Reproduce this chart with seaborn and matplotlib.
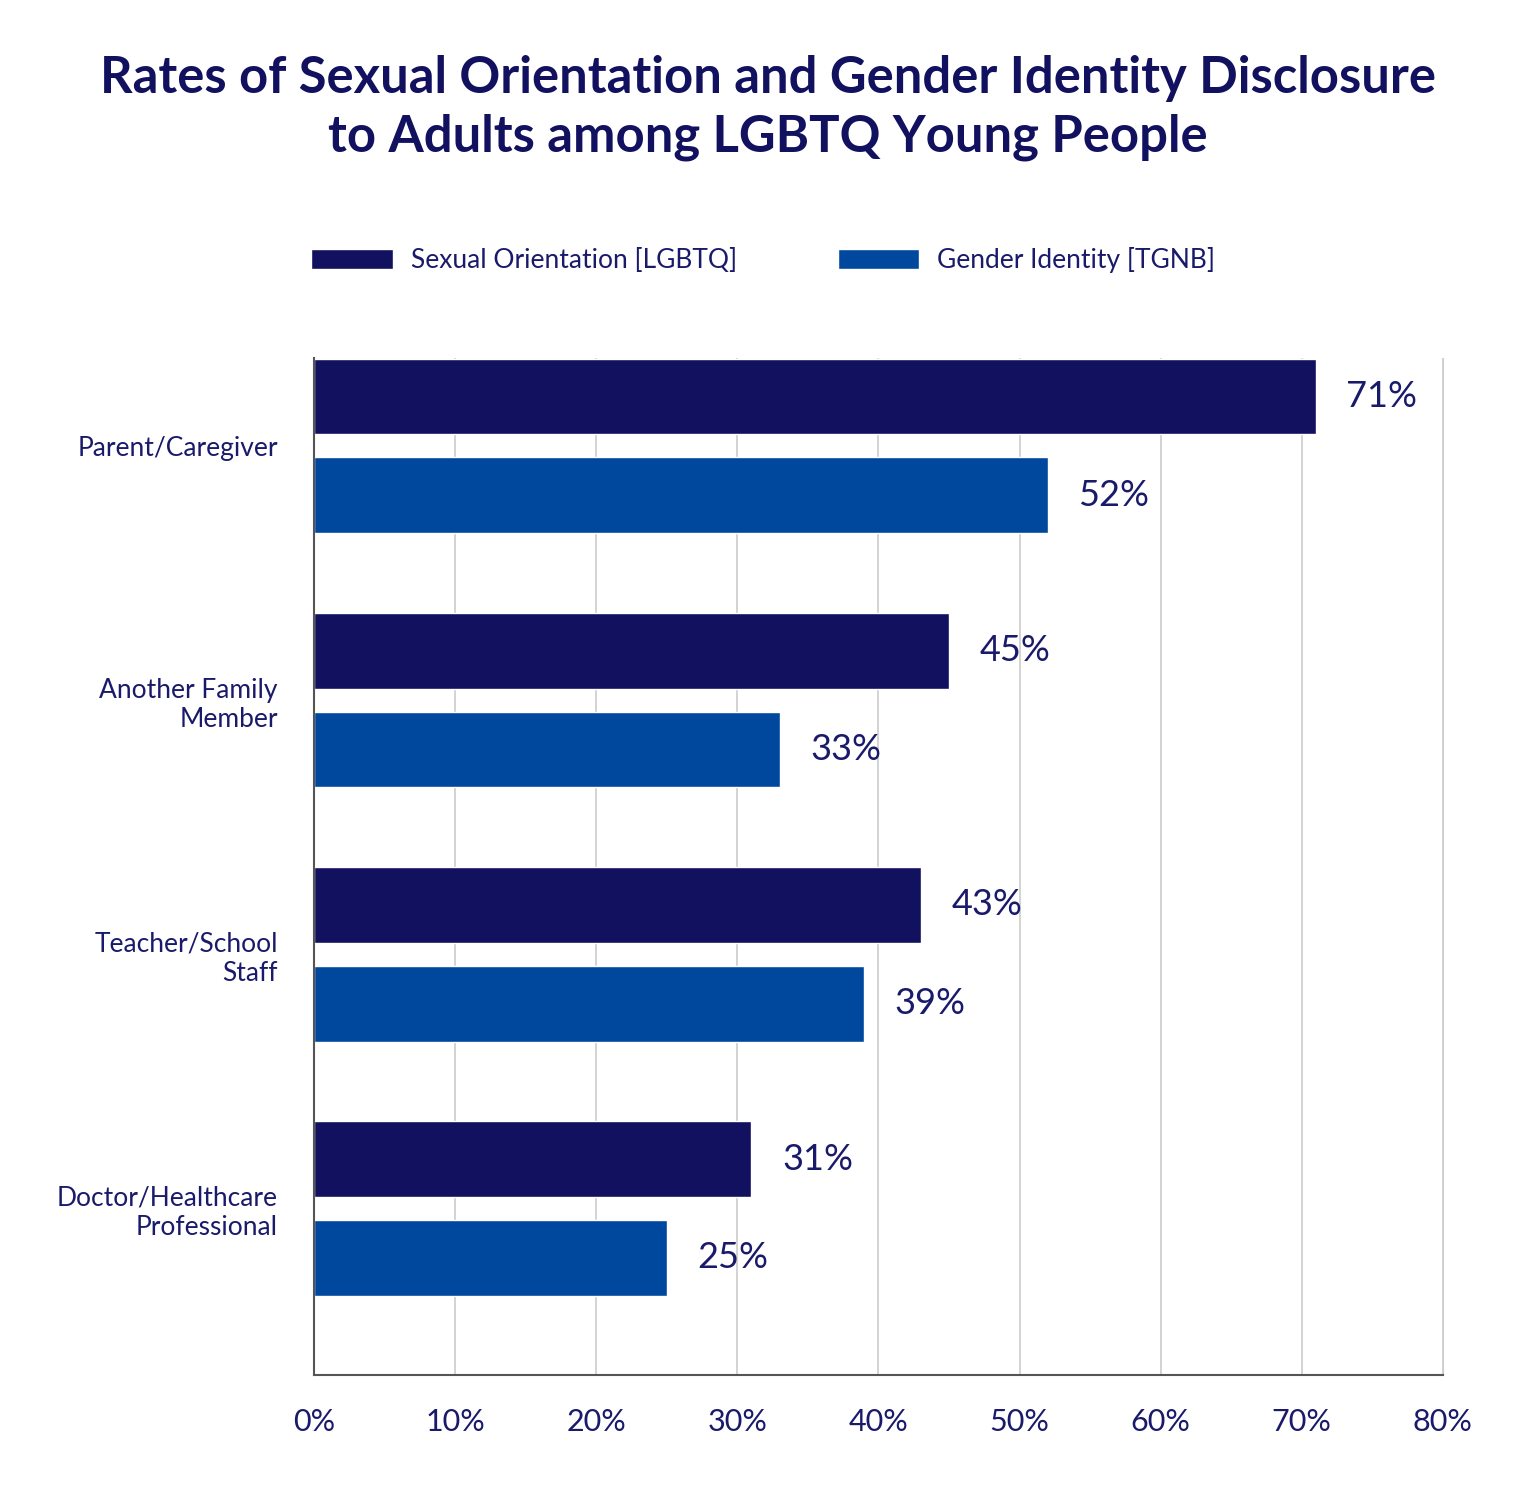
import pandas as pd
import matplotlib
matplotlib.use("Agg")
import matplotlib.pyplot as plt
import seaborn as sns
from matplotlib.patches import Patch

# Data
categories = ["Parent/Caregiver", "Another Family\nMember", "Teacher/School\nStaff",
              "Doctor/Healthcare\nProfessional"]
series_names = ["Sexual Orientation [LGBTQ]", "Gender Identity [TGNB]"]
sexual_orientation = [71, 45, 43, 31]
gender_identity = [52, 33, 39, 25]
x_ticks = [0, 10, 20, 30, 40, 50, 60, 70, 80]

navy = "#12115F"
blue = "#00479E"
text_col = "#1A1A6B"

df = pd.DataFrame({
    "category": categories * 2,
    "series": [series_names[0]] * 4 + [series_names[1]] * 4,
    "value": sexual_orientation + gender_identity,
})

sns.set_style("white")
plt.rcParams["font.family"] = ["Lato", "DejaVu Sans"]

fig = plt.figure(figsize=(15.36, 14.94), dpi=100)
ax = fig.add_axes([0.2044, 0.0797, 0.735, 0.6807])

sns.barplot(data=df, y="category", x="value", hue="series", orient="h",
            palette=[navy, blue], width=0.778, gap=0.232, ax=ax,
            legend=False, errorbar=None, saturation=1)

# value labels
for cont in ax.containers:
    ax.bar_label(cont, labels=[f"{v:.0f}%" for v in cont.datavalues],
                 padding=22, fontsize=26, color=text_col, fontweight="normal")

ax.set_xlim(0, 80)
ax.set_ylim(3.655, -0.346)
ax.set_xticks(x_ticks)
ax.set_xticklabels([f"{t}%" for t in x_ticks], fontsize=22, color=text_col)
ax.tick_params(axis="x", length=0, pad=24)
ax.tick_params(axis="y", length=0, pad=26, labelsize=19, labelcolor=text_col)
for lbl in ax.get_yticklabels():
    lbl.set_horizontalalignment("right")
ax.set_xlabel("")
ax.set_ylabel("")
ax.grid(axis="x", color="#CCCCCC", linewidth=1.2)
ax.set_axisbelow(True)
ax.spines["top"].set_visible(False)
ax.spines["right"].set_color("#CCCCCC")
ax.spines["left"].set_color("#555555")
ax.spines["bottom"].set_color("#555555")
ax.spines["left"].set_linewidth(1.5)
ax.spines["bottom"].set_linewidth(1.5)

# legend
handles = [Patch(facecolor=navy, label=series_names[0]),
           Patch(facecolor=blue, label=series_names[1])]
fig.legend(handles=handles, loc="center", bbox_to_anchor=(0.497, 0.826), ncol=2,
           frameon=False, fontsize=19, labelcolor=text_col, handlelength=3.1,
           handleheight=0.8, handletextpad=0.68, columnspacing=3.8)

fig.text(0.5, 0.928, "Rates of Sexual Orientation and Gender Identity Disclosure\n"
         "to Adults among LGBTQ Young People",
         ha="center", va="center", fontsize=36.5, fontweight="bold", color=navy,
         linespacing=1.3)

fig.savefig("out.png", dpi=100, facecolor="white")
